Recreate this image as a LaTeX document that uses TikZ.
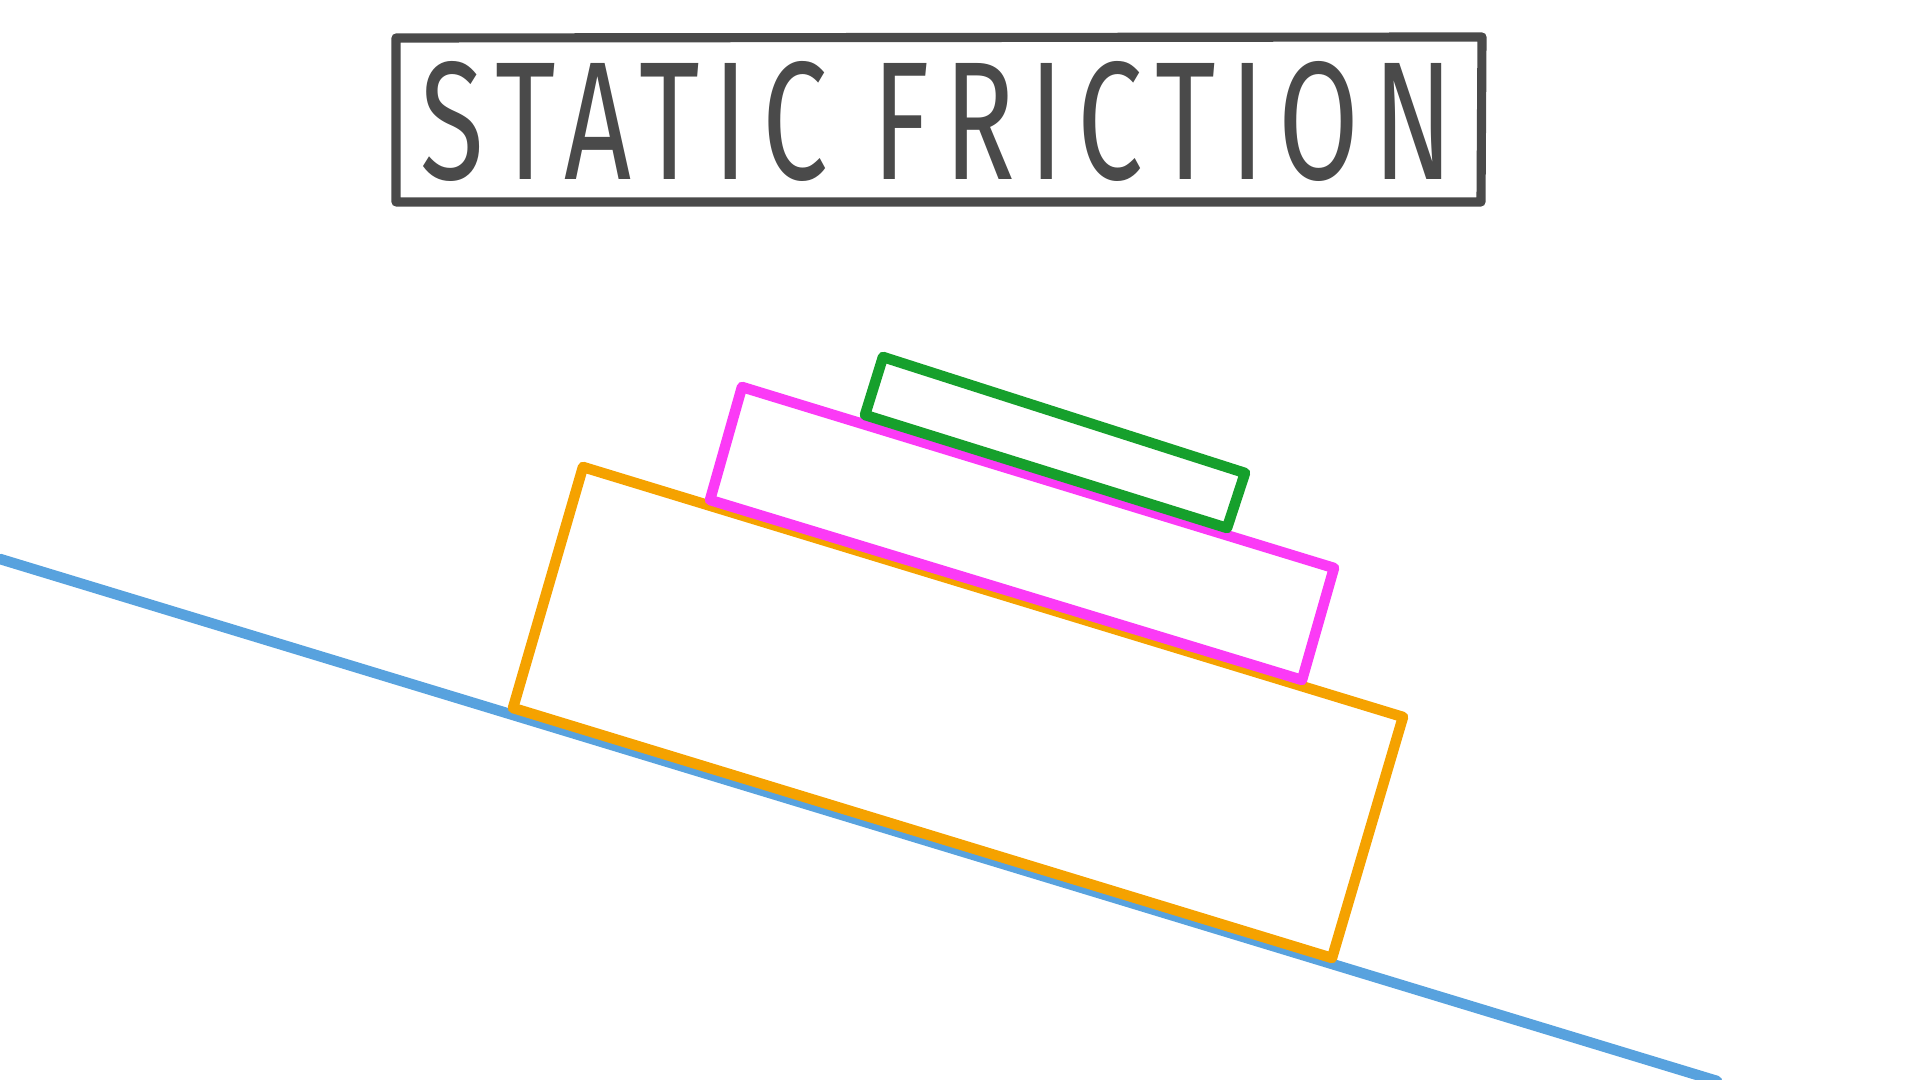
\documentclass[tikz,border=0pt]{standalone}
\usepackage{fontspec}
\usepackage{graphicx}
\newfontfamily\titlefont{Fira Sans}[LetterSpace=12]
\definecolor{inkgray}{HTML}{4A4A4A}
\definecolor{slopeblue}{HTML}{58A2DE}
\definecolor{blockorange}{HTML}{F5A200}
\definecolor{blockmagenta}{HTML}{FB3AF6}
\definecolor{blockgreen}{HTML}{16A02C}
\tikzset{
  pen/.style={line width=3pt, line cap=round, line join=round},
  framebox/.style={draw=inkgray, line width=2.6pt, line join=round},
}
\begin{document}
\begin{tikzpicture}[x=0.01cm, y=-0.01cm]
\useasboundingbox (0,0) rectangle (1920,1080);
% title
\draw[framebox] (396,38) -- (1482,37) -- (1481,202) -- (396,202) -- cycle;
\node[inkgray, inner sep=0pt] (title) at (937,121)
  {\resizebox{10.33cm}{1.18cm}{\titlefont STATIC FRICTION}};
% slope
\draw[pen, slopeblue] (0,559) -- (1717,1081);
% orange block
\draw[pen, blockorange] (513,708) -- (583,467) -- (1403,717) -- (1332,958) -- cycle;
% magenta block
\draw[pen, blockmagenta] (710,500) -- (742,387) -- (1334,568) -- (1302,680) -- cycle;
% green block
\draw[pen, blockgreen] (865,415) -- (883,357) -- (1245,473) -- (1227,528) -- cycle;
\end{tikzpicture}
\end{document}
